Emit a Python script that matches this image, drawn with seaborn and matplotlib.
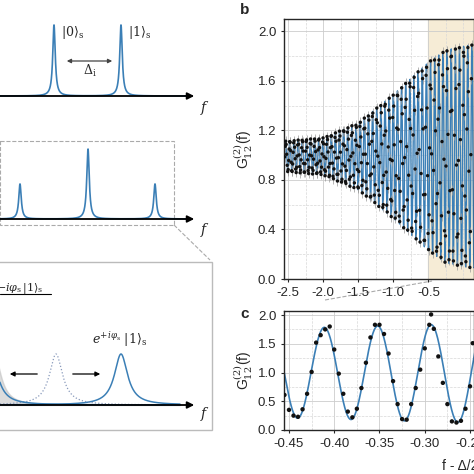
import numpy as np
import seaborn as sns
import matplotlib.pyplot as plt
from matplotlib.patches import Rectangle
from matplotlib.ticker import AutoMinorLocator

# envelope of the fitted oscillation
env_x = [-2.6, -2.0, -1.5, -1.0, -0.5, -0.25, 0.1]
env_amp = [0.12, 0.15, 0.27, 0.50, 0.76, 0.86, 0.90]
period = 0.059
phase_x0 = -0.352
offset = 0.99

# panel c measured points
c_x = [-0.455, -0.450, -0.445, -0.440, -0.435, -0.430, -0.425, -0.420, -0.415, -0.410,
       -0.405, -0.400, -0.395, -0.390, -0.385, -0.380, -0.375, -0.370, -0.365, -0.360,
       -0.355, -0.350, -0.345, -0.340, -0.335, -0.330, -0.325, -0.320, -0.315, -0.310,
       -0.305, -0.300, -0.295, -0.293, -0.290, -0.285, -0.280, -0.275, -0.270, -0.265,
       -0.260, -0.255, -0.250, -0.247]
c_y = [0.61, 0.35, 0.25, 0.23, 0.36, 0.63, 1.01, 1.52, 1.65, 1.75,
       1.80, 1.40, 0.98, 0.63, 0.32, 0.22, 0.37, 0.73, 1.17, 1.61,
       1.83, 1.83, 1.67, 1.33, 0.85, 0.45, 0.19, 0.18, 0.45, 0.73,
       1.05, 1.42, 1.83, 2.01, 1.76, 1.28, 0.82, 0.45, 0.15, 0.13,
       0.16, 0.37, 0.76, 1.51]

b_ticks = [-2.5, -2.0, -1.5, -1.0, -0.5]
c_ticks = [-0.45, -0.40, -0.35, -0.30, -0.25]

blue = "#3b7fb6"


def fit(x):
    a = np.interp(x, env_x, env_amp)
    return offset + a * np.cos(2 * np.pi * (x - phase_x0) / period)


sns.set_style("ticks")
plt.rcParams["font.family"] = ["Liberation Sans", "DejaVu Sans"]
plt.rcParams["mathtext.fontset"] = "dejavuserif"

fig = plt.figure(figsize=(4.74, 4.74), dpi=100)
W = 474.0


def rect(l, t, w, h):
    return [l / W, 1 - (t + h) / W, w / W, h / W]


# ---- panel a (schematic, pixel coordinates) ----
axa = fig.add_axes([0, 0, 1, 1], zorder=0)
axa.set_xlim(0, 474)
axa.set_ylim(474, 0)
axa.axis("off")


def lor(x, x0, h, w):
    return h * w**2 / ((x - x0) ** 2 + w**2)


xs = np.linspace(-10, 190, 2000)
# top
axa.annotate("", xy=(197, 96), xytext=(-5, 96),
             arrowprops=dict(arrowstyle="-|>", color="k", lw=1.3))
axa.plot(xs, 96 - lor(xs, 54, 71, 1.5) - lor(xs, 121, 71, 1.5), color=blue, lw=1.2)
axa.text(61, 36, r"$|0\rangle_{\rm s}$", fontsize=9)
axa.text(128, 36, r"$|1\rangle_{\rm s}$", fontsize=9)
axa.annotate("", xy=(64, 61), xytext=(115, 61),
             arrowprops=dict(arrowstyle="<|-|>", color="#444444", lw=0.9, mutation_scale=6))
axa.text(90, 75, r"$\Delta_{\rm i}$", fontsize=9, ha="center")
axa.text(200, 112, r"$f$", fontsize=10)
# middle
axa.annotate("", xy=(197, 219), xytext=(-5, 219),
             arrowprops=dict(arrowstyle="-|>", color="k", lw=1.3))
axa.plot(xs, 219 - lor(xs, 20, 35, 1.5) - lor(xs, 88, 70, 1.5) - lor(xs, 155, 35, 1.5),
         color=blue, lw=1.2)
axa.add_patch(Rectangle((0, 141), 174, 84, fill=False, ec="#aaaaaa", ls="--", lw=0.8))
axa.text(200, 234, r"$f$", fontsize=10)
axa.plot([174, 210], [225, 260], color="#aaaaaa", ls="--", lw=0.8)
# bottom
axa.add_patch(Rectangle((-5, 262), 217, 168, fill=False, ec="#bbbbbb", lw=1.0))
axa.annotate("", xy=(197, 405), xytext=(-5, 405),
             arrowprops=dict(arrowstyle="-|>", color="k", lw=1.3))
xb = np.linspace(-10, 180, 1500)
axa.plot(xb, 405 - lor(xb, 121, 51, 8), color=blue, lw=1.1)
axa.plot(xb, 405 - lor(xb, 56, 51, 8), color="#8899bb", lw=0.9, ls=":")
axa.fill_between(xb, 405, 405 - lor(xb, -6, 51, 8), color="#bbbbbb", alpha=0.5)
axa.plot(xb, 405 - lor(xb, -9, 51, 8), color=blue, lw=1.1)
axa.annotate("", xy=(7, 374), xytext=(40, 374),
             arrowprops=dict(arrowstyle="-|>", color="k", lw=0.9, mutation_scale=7))
axa.annotate("", xy=(103, 374), xytext=(70, 374),
             arrowprops=dict(arrowstyle="-|>", color="k", lw=0.9, mutation_scale=7))
axa.text(92, 344, r"$e^{+i\varphi_{\rm s}}\ |1\rangle_{\rm s}$", fontsize=9)
axa.text(-4, 291, r"$-i\varphi_{\rm s}\,|1\rangle_{\rm s}$", fontsize=8)
axa.plot([0, 51], [294, 294], color="k", lw=0.8)
axa.text(200, 418, r"$f$", fontsize=10)
# zoom connector b -> c
axa.plot([325, 432], [300, 281], color="#aaaaaa", ls="--", lw=0.8)

# ---- panel b ----
axb = fig.add_axes(rect(284, 19, 190, 260), zorder=2)
axb.set_xlim(-2.56, 0.15)
axb.set_ylim(0, 2.1)
axb.axvspan(-0.5, 0.2, color="#f6ecd6", zorder=0)
xl = np.linspace(-2.6, 0.2, 6000)
sns.lineplot(x=xl, y=fit(xl), ax=axb, color=blue, lw=1.0, zorder=2)
xp = np.arange(-2.55, 0.12, 0.0071)
yp = fit(xp)
axb.errorbar(xp, yp, yerr=0.04, fmt="none", ecolor="#999999", elinewidth=0.5, zorder=3)
sns.scatterplot(x=xp, y=yp, ax=axb, color="#111111", s=6, edgecolor="none", zorder=4)
axb.set_xticks(b_ticks)
axb.set_xticklabels([f"{t:.1f}" for t in b_ticks])
axb.set_yticks([0.0, 0.4, 0.8, 1.2, 1.6, 2.0])
axb.set_ylabel(r"G$^{(2)}_{12}$(f)", fontsize=10, labelpad=2)
fig.text(240 / W, 1 - 14 / W, "b", fontsize=11, fontweight="bold")

# ---- panel c ----
axc = fig.add_axes(rect(284, 311, 190, 119), zorder=2)
axc.set_xlim(-0.4555, -0.2456)
axc.set_ylim(0, 2.07)
xc = np.linspace(-0.46, -0.24, 800)
sns.lineplot(x=xc, y=fit(xc), ax=axc, color=blue, lw=1.2, zorder=2)
sns.scatterplot(x=c_x, y=c_y, ax=axc, color="#111111", s=10, edgecolor="none", zorder=3)
axc.set_xticks(c_ticks)
axc.set_xticklabels([f"{t:.2f}" for t in c_ticks])
axc.set_yticks([0.0, 0.5, 1.0, 1.5, 2.0])
axc.set_ylabel(r"G$^{(2)}_{12}$(f)", fontsize=10, labelpad=2)
fig.text(240 / W, 1 - 318 / W, "c", fontsize=11, fontweight="bold")
fig.text(442 / W, 1 - 470 / W, "f - Δ/2 (GHz)", fontsize=10)

for ax in (axb, axc):
    ax.xaxis.set_minor_locator(AutoMinorLocator(2))
    ax.yaxis.set_minor_locator(AutoMinorLocator(2))
    ax.grid(True, which="major", color="#cccccc", lw=0.6)
    ax.grid(True, which="minor", color="#d8d8d8", lw=0.5, ls="--")
    ax.tick_params(labelsize=9.5, length=2)
    ax.tick_params(which="minor", length=0)
    for s in ax.spines.values():
        s.set_linewidth(1.0)

fig.savefig("out.png", dpi=100)
